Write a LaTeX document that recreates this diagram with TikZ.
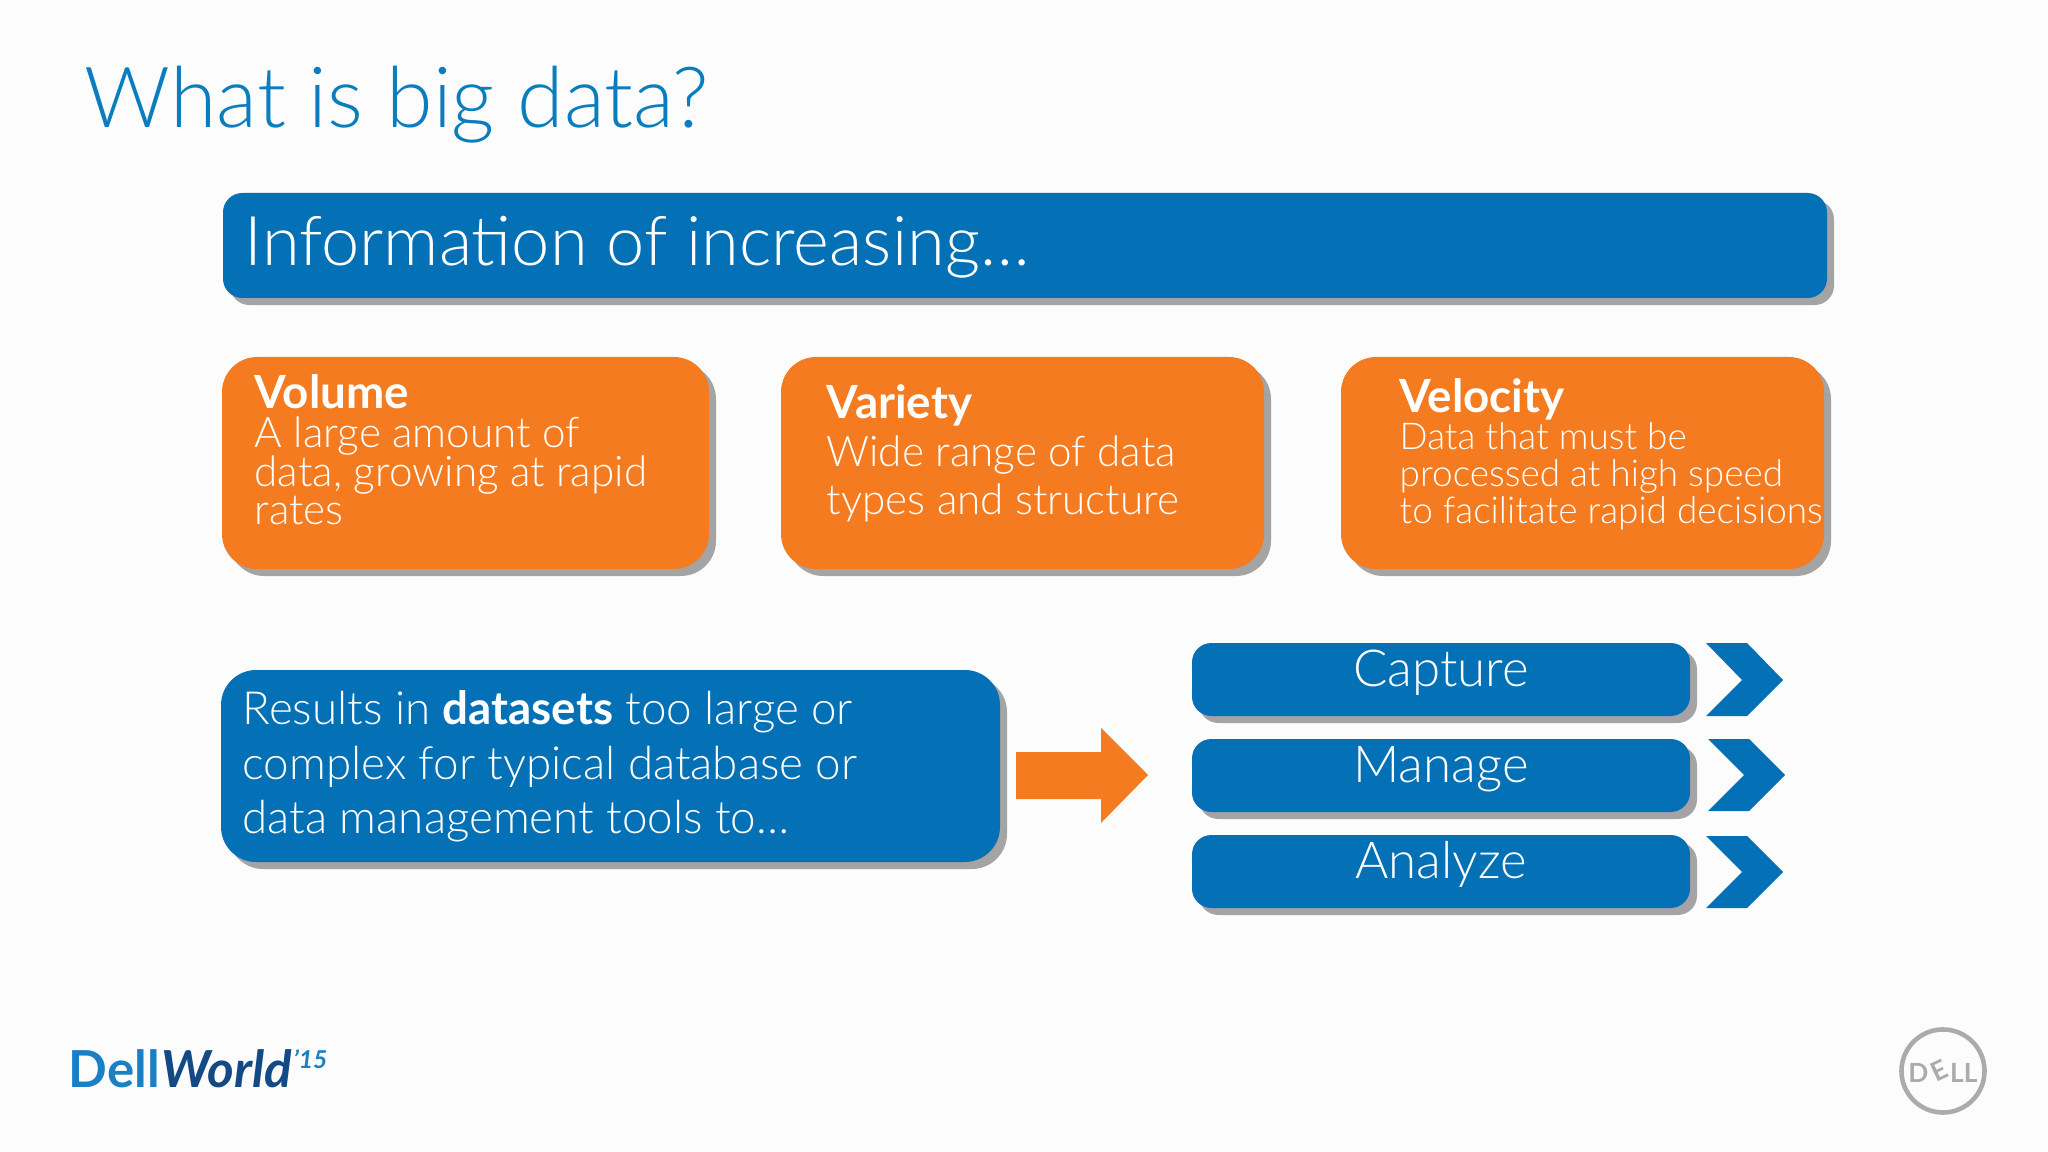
\documentclass[tikz,border=0pt]{standalone}
\usepackage{fontspec}
\usetikzlibrary{shadows}
\setmainfont{Lato Light}[BoldFont={Lato Bold}]
\definecolor{dellblue}{HTML}{0470B5}
\definecolor{dellorange}{HTML}{F47B20}
\definecolor{titleblue}{HTML}{0A7DBE}
\definecolor{lightblue}{HTML}{1B80C3}
\definecolor{darkblue}{HTML}{134A85}
\definecolor{logogray}{HTML}{ABABAB}
\tikzset{
  softshadow/.style={drop shadow={shadow xshift=0.07cm,shadow yshift=-0.07cm,opacity=0.35,fill=black}},
  bluebox/.style={fill=dellblue,rounded corners=5.5pt,softshadow},
  orangebox/.style={fill=dellorange,rounded corners=10pt,softshadow},
  boxtext/.style={text=white,inner sep=0pt,align=left,anchor=north west},
  steptext/.style={text=white,inner sep=0pt,anchor=base,font=\fontsize{14.5}{17}\selectfont},
  chevronshape/.style={fill=dellblue}
}
\begin{document}
\begin{tikzpicture}[x=0.01cm,y=-0.01cm]
\fill [white!99!black] (0,0) rectangle (2048,1152);
\useasboundingbox (0,0) rectangle (2048,1152);
\node (title) [text=titleblue,inner sep=0pt,anchor=base west,font=\fontsize{24}{28}\selectfont] at (84,128) {What is big data?};

\path [bluebox] (223,193) rectangle (1827,298);
\node (banner) [boxtext,anchor=base west,font=\fontsize{19.5}{23}\selectfont] at (244,266) {Information of increasing\dots};

\path [orangebox] (222,357) rectangle (709,569);
\node (volume) [boxtext,font=\fontsize{12}{11}\selectfont] at (254,374) {{\fontsize{13}{11}\selectfont\textbf{Volume}}\\A large amount of\\data, growing at rapid\\rates};
\path [orangebox] (781,357) rectangle (1264,569);
\node (variety) [boxtext,font=\fontsize{12}{13.7}\selectfont] at (826,384) {{\fontsize{13}{13.7}\selectfont\textbf{Variety}}\\Wide range of data\\types and structure};
\path [orangebox] (1341,357) rectangle (1824,569);
\node (velocity) [boxtext,font=\fontsize{10.5}{10.5}\selectfont] at (1399,378) {{\fontsize{13}{12}\selectfont\textbf{Velocity}}\\Data that must be\\processed at high speed\\to facilitate rapid decisions};

\path [bluebox,rounded corners=10pt] (221,670) rectangle (1000,862);
\node (results) [boxtext,font=\fontsize{13}{15.5}\selectfont] at (242,690) {Results in \textbf{datasets} too large or\\complex for typical database or\\data management tools to\dots};

\fill [dellorange] (1016,752) -- (1101,752) -- (1101,728) -- (1148,775) -- (1101,823) -- (1101,799) -- (1016,799) -- cycle;

\path [bluebox] (1192,643) rectangle (1690,716);
\node (capture) [steptext] at (1441,686) {Capture};
\path [bluebox] (1192,739) rectangle (1690,812);
\node (manage) [steptext] at (1441,782) {Manage};
\path [bluebox] (1192,835) rectangle (1690,908);
\node (analyze) [steptext] at (1441,878) {Analyze};

\fill [chevronshape] (1706,643) -- (1747,643) -- (1783,680) -- (1747,716) -- (1706,716) -- (1742,680) -- cycle;
\fill [chevronshape] (1708,739) -- (1749,739) -- (1785,775) -- (1749,811) -- (1708,811) -- (1744,775) -- cycle;
\fill [chevronshape] (1706,836) -- (1747,836) -- (1783,872) -- (1747,908) -- (1706,908) -- (1742,872) -- cycle;

\node (dell) [inner sep=0pt,anchor=base west,text=lightblue,font=\fontsize{14.5}{17}\selectfont\bfseries] at (68,1087) {Dell};
\node (world) [inner sep=0pt,anchor=base west,text=darkblue,font=\fontsize{14.5}{17}\selectfont\bfseries\itshape] at (dell.base east) {World};
\node (year) [inner sep=0pt,anchor=base west,text=lightblue,font=\fontsize{7}{8}\selectfont\bfseries\itshape] at (293,1068) {'15};

\node (seal) [circle,draw=logogray,line width=1.3pt,minimum size=0.83cm,inner sep=0pt] at (1943,1071) {};
\node (sealtext) [inner sep=0pt,text=logogray,font=\fontsize{7.5}{8}\selectfont\bfseries] at (seal.center) {D\rotatebox{25}{E}LL};
\end{tikzpicture}
\end{document}
